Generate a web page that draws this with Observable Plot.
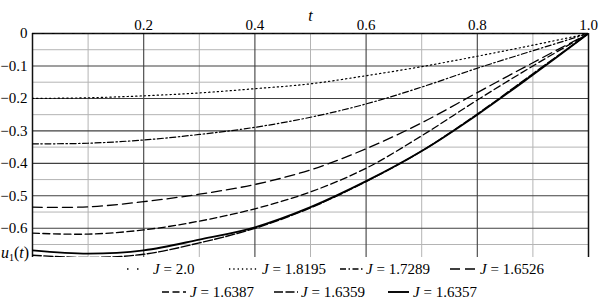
<!DOCTYPE html>
<html>
<head>
<meta charset="utf-8">
<script src="https://cdn.jsdelivr.net/npm/d3@7"></script>
<script src="https://cdn.jsdelivr.net/npm/@observablehq/plot@0.6"></script>
<style>
  body { margin: 0; background: #fff; }
  #wrap { position: relative; width: 598px; height: 303px; font-family: "Liberation Serif", "Times New Roman", Times, serif; }
  .item { position: absolute; display: flex; align-items: center; font-size: 15px; white-space: nowrap; color: #000; font-family: "Liberation Serif", "Times New Roman", Times, serif; }
  .item i { font-style: italic; }
  svg text { font-family: "Liberation Serif", "Times New Roman", Times, serif; }
</style>
</head>
<body>
<div id="wrap"></div>
<script>
// ---- data ----
const tValues = [0, 0.1, 0.2, 0.3, 0.4, 0.5, 0.6, 0.7, 0.8, 0.9, 1.0];
const seriesNames = ["2.0", "1.8195", "1.7289", "1.6526", "1.6387", "1.6359", "1.6357"];
const uJ2000 = [0, 0, 0, 0, 0, 0, 0, 0, 0, 0, 0];
const uJ18195 = [-0.2, -0.198, -0.192, -0.183, -0.17, -0.155, -0.13, -0.102, -0.07, -0.036, 0];
const uJ17289 = [-0.34, -0.338, -0.328, -0.311, -0.289, -0.258, -0.217, -0.165, -0.107, -0.053, 0];
const uJ16526 = [-0.535, -0.534, -0.518, -0.495, -0.465, -0.42, -0.355, -0.275, -0.182, -0.09, 0];
const uJ16387 = [-0.615, -0.618, -0.605, -0.578, -0.54, -0.488, -0.415, -0.315, -0.205, -0.1, 0];
const uJ16359 = [-0.683, -0.69, -0.68, -0.645, -0.6, -0.537, -0.456, -0.362, -0.248, -0.124, 0];
const uJ16357 = [-0.668, -0.678, -0.668, -0.635, -0.597, -0.535, -0.455, -0.362, -0.25, -0.127, 0];
const xTickValues = [0.2, 0.4, 0.6, 0.8, 1.0];
const yTickValues = [0, -0.1, -0.2, -0.3, -0.4, -0.5, -0.6];
const xMajorGrid = [0.2, 0.4, 0.6, 0.8];
const xMinorGrid = [0.1, 0.3, 0.5, 0.7, 0.9];
const yMajorGrid = [-0.1, -0.2, -0.3, -0.4, -0.5, -0.6];
const yMinorGrid = [-0.05, -0.15, -0.25, -0.35, -0.45, -0.55, -0.65];
const frameX = [0, 1];
const frameY = [0];
const xAxisLabel = ["t"];

// ---- styles ----
const serif = "Liberation Serif, Times New Roman, Times, serif";
const seriesU = [uJ2000, uJ18195, uJ17289, uJ16526, uJ16387, uJ16359, uJ16357];
const dashes = ["1.5,8.5", "1.3,3", "6,2.5,1.5,2.5", "10,5", "7,3.5", "9,2.5", null];
const widths = [1.2, 1.2, 1.2, 1.3, 1.3, 1.4, 1.9];

const lineMarks = seriesU.map((u, k) =>
  Plot.line(tValues.map((t, i) => ({t, u: u[i]})), {
    x: "t", y: "u", stroke: "#000", strokeWidth: widths[k],
    strokeDasharray: dashes[k] || undefined, curve: "catmull-rom", clip: true
  })
);

const fmt = d3.format(".1f");
const plot = Plot.plot({
  width: 598, height: 262,
  marginLeft: 32, marginRight: 10, marginTop: 33, marginBottom: 5,
  style: {fontFamily: serif, fontSize: "15px", background: "#fff", overflow: "visible"},
  x: {domain: [0, 1]},
  y: {domain: [-0.69, 0]},
  marks: [
    Plot.ruleY(yMinorGrid, {stroke: "#b4b4b4", strokeWidth: 1}),
    Plot.ruleX(xMinorGrid, {stroke: "#b4b4b4", strokeWidth: 1}),
    Plot.ruleY(yMajorGrid, {stroke: "#404040", strokeWidth: 1.1}),
    Plot.ruleX(xMajorGrid, {stroke: "#404040", strokeWidth: 1.1}),
    Plot.ruleX(frameX, {stroke: "#111", strokeWidth: 1.5}),
    Plot.ruleY(frameY, {stroke: "#111", strokeWidth: 1.5}),
    ...lineMarks,
    Plot.axisX(xTickValues, {anchor: "top", tickSize: 0, tickPadding: 4, tickFormat: fmt, label: null, fill: "#000", fontSize: 15}),
    Plot.axisY(yTickValues, {anchor: "left", tickSize: 0, tickPadding: 5, tickFormat: d => d === 0 ? "0" : fmt(d), label: null, fill: "#000", fontSize: 15}),
    Plot.text(xAxisLabel, {text: d => d, frameAnchor: "top", dy: -24, fontStyle: "italic", fontSize: 16, fill: "#000"})
  ]
});

const wrap = document.getElementById("wrap");
wrap.appendChild(plot);

// y-axis label u1(t)
const svg = d3.select(plot);
const lab = svg.append("text").attr("x", 1).attr("y", 258).attr("text-anchor", "start")
  .attr("font-family", serif).attr("font-size", 16).attr("fill", "#000");
lab.append("tspan").attr("font-style", "italic").text("u");
lab.append("tspan").attr("font-size", 10).attr("dy", 3).text("1");
lab.append("tspan").attr("dy", -3).text("(");
lab.append("tspan").attr("font-style", "italic").text("t");
lab.append("tspan").text(")");

// legend below the svg
const legendPos = [
  {sx: 127, sw: 20, tx: 153, y: 269},
  {sx: 229, sw: 29, tx: 262, y: 269},
  {sx: 340, sw: 23, tx: 366, y: 269},
  {sx: 450, sw: 25, tx: 480, y: 269},
  {sx: 162, sw: 24, tx: 190, y: 292},
  {sx: 274, sw: 24, tx: 301, y: 292},
  {sx: 388, sw: 21, tx: 413, y: 292}
];
seriesNames.forEach((name, k) => {
  const p = legendPos[k];
  const sw = document.createElementNS("http://www.w3.org/2000/svg", "svg");
  sw.setAttribute("width", p.sw); sw.setAttribute("height", 10);
  sw.style.position = "absolute"; sw.style.left = p.sx + "px"; sw.style.top = (p.y - 5) + "px";
  const ln = document.createElementNS("http://www.w3.org/2000/svg", "line");
  ln.setAttribute("x1", 0); ln.setAttribute("x2", p.sw); ln.setAttribute("y1", 5); ln.setAttribute("y2", 5);
  ln.setAttribute("stroke", "#000"); ln.setAttribute("stroke-width", k === 6 ? 1.9 : 1.4);
  if (dashes[k]) ln.setAttribute("stroke-dasharray", dashes[k]);
  sw.appendChild(ln);
  wrap.appendChild(sw);
  const tx = document.createElement("div");
  tx.className = "item";
  tx.style.left = p.tx + "px"; tx.style.top = (p.y - 9) + "px"; tx.style.height = "18px";
  tx.innerHTML = "<i>J</i>&nbsp;=&nbsp;" + name;
  wrap.appendChild(tx);
});
</script>
</body>
</html>
